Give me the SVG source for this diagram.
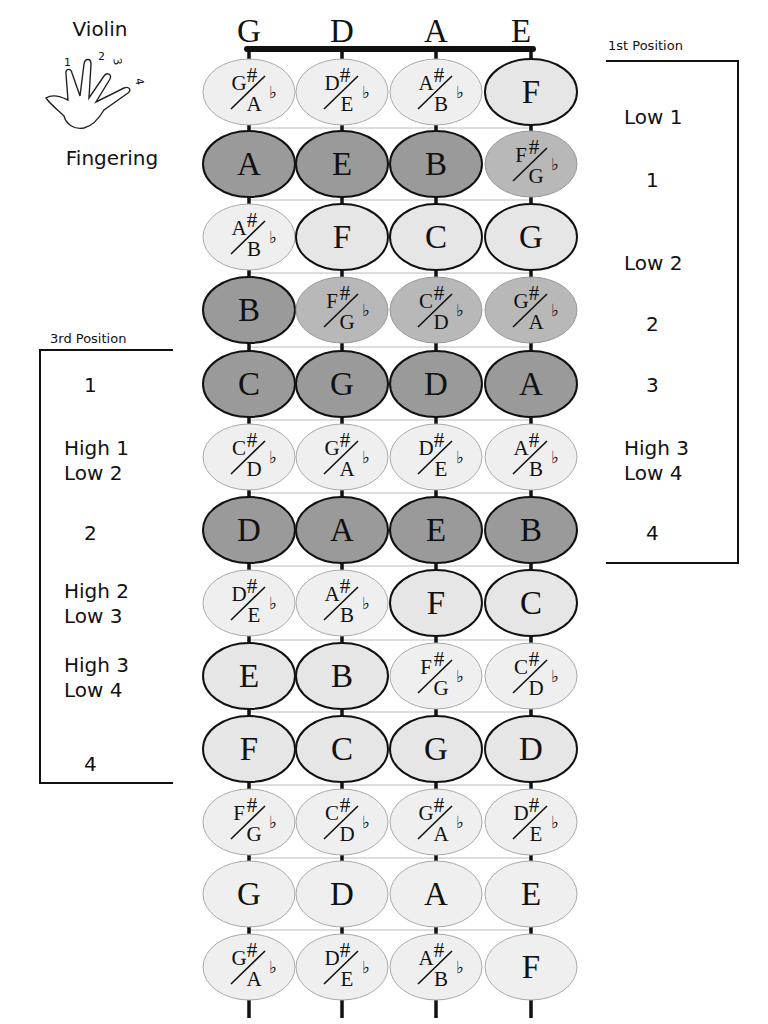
<svg xmlns="http://www.w3.org/2000/svg" width="768" height="1024" viewBox="0 0 768 1024">
<style>
.s{fill:#efefef;stroke:#aaa;stroke-width:1}
.l{fill:#e6e6e6;stroke:#111;stroke-width:2}
.d{fill:#9a9a9a;stroke:#111;stroke-width:2}
.m{fill:#b8b8b8;stroke:#999;stroke-width:1}
.n{font-family:"Liberation Serif",serif;font-size:33px;text-anchor:middle;fill:#111}
.t{font-family:"Liberation Serif",serif;font-size:21px;text-anchor:middle;fill:#111}
.fl{font-family:"DejaVu Sans",sans-serif;font-size:17px;text-anchor:middle;fill:#111}
.h{font-family:"DejaVu Sans",sans-serif;font-size:13px;fill:#111}
.sl{stroke:#111;stroke-width:1.6}
.lab{font-family:"DejaVu Sans",sans-serif;font-size:20px;fill:#111}
.sm{font-family:"DejaVu Sans",sans-serif;font-size:11px;fill:#111}
.br{fill:none;stroke:#111;stroke-width:2}
</style>
<defs>
<ellipse id="e" rx="46" ry="33"/>
</defs>
<rect width="768" height="1024" fill="#fff"/>
<g id="title">
<text x="100" y="36" class="lab" font-size="22" text-anchor="middle">Violin</text>
<text x="112" y="165" class="lab" font-size="22" text-anchor="middle">Fingering</text>
<path d="M46,98 C52,94 60,96 68,100 L66,74 C65,68 71,68 72,73 L80,96 L84,64 C85,58 91,58 91,64 L89,98 L104,76 C107,72 112,74 110,79 L96,102 L124,88 C129,86 132,90 128,93 L104,110 C98,120 92,126 84,128 C74,130 66,124 64,116 C58,110 50,104 46,98 Z" fill="none" stroke="#222" stroke-width="1.4"/>
<text x="64" y="66" class="sm">1</text>
<text x="98" y="60" class="sm">2</text>
<text x="114" y="66" class="sm" transform="rotate(80 118 62)">3</text>
<text x="136" y="86" class="sm" transform="rotate(80 140 82)">4</text>
</g>
<g id="connectors">
<g stroke="#bbb" stroke-width="1">
<line x1="249" y1="128" x2="531" y2="128"/><line x1="249" y1="200" x2="531" y2="200"/><line x1="249" y1="273" x2="531" y2="273"/><line x1="249" y1="347" x2="531" y2="347"/><line x1="249" y1="420" x2="531" y2="420"/><line x1="249" y1="493" x2="531" y2="493"/><line x1="249" y1="566" x2="531" y2="566"/><line x1="249" y1="640" x2="531" y2="640"/><line x1="249" y1="712" x2="531" y2="712"/><line x1="249" y1="785" x2="531" y2="785"/><line x1="249" y1="858" x2="531" y2="858"/><line x1="249" y1="930" x2="531" y2="930"/>
</g>
<g stroke="#111" stroke-width="3.5">
<line x1="249" y1="48" x2="249" y2="1018"/><line x1="342" y1="48" x2="342" y2="1018"/><line x1="436" y1="48" x2="436" y2="1018"/><line x1="531" y1="48" x2="531" y2="1018"/>
</g>
<line x1="247" y1="49" x2="533" y2="49" stroke="#111" stroke-width="6" stroke-linecap="round"/>
</g>
<g id="strings">
<text x="249" y="42" class="n" font-size="34">G</text><text x="342" y="42" class="n" font-size="34">D</text><text x="436" y="42" class="n" font-size="34">A</text><text x="521" y="42" class="n" font-size="34">E</text>
</g>
<g id="pos1">
<text x="608" y="50" class="h">1st Position</text>
<polyline class="br" points="606,61 738,61 738,563 606,563"/>
<text x="624" y="124" class="lab">Low 1</text>
<text x="646" y="187" class="lab">1</text>
<text x="624" y="270" class="lab">Low 2</text>
<text x="646" y="331" class="lab">2</text>
<text x="646" y="392" class="lab">3</text>
<text x="624" y="455" class="lab">High 3</text>
<text x="624" y="480" class="lab">Low 4</text>
<text x="646" y="540" class="lab">4</text>
</g>
<g id="pos3">
<text x="50" y="343" class="h">3rd Position</text>
<polyline class="br" points="173,350 40,350 40,783 173,783"/>
<text x="84" y="392" class="lab">1</text>
<text x="64" y="455" class="lab">High 1</text>
<text x="64" y="480" class="lab">Low 2</text>
<text x="84" y="540" class="lab">2</text>
<text x="64" y="598" class="lab">High 2</text>
<text x="64" y="623" class="lab">Low 3</text>
<text x="64" y="672" class="lab">High 3</text>
<text x="64" y="697" class="lab">Low 4</text>
<text x="84" y="771" class="lab">4</text>
</g>
<g id="notes">
<g id="r1c1" transform="translate(249,92)"><use href="#e" class="s"/><text x="-10" y="-2" class="t">G</text><text x="3" y="-10" class="t" font-size="14">#</text><line class="sl" x1="-18" y1="17" x2="16" y2="-16"/><text x="5" y="19" class="t">A</text><text x="24" y="6" class="fl">♭</text></g>
<g id="r1c2" transform="translate(342,92)"><use href="#e" class="s"/><text x="-10" y="-2" class="t">D</text><text x="3" y="-10" class="t" font-size="14">#</text><line class="sl" x1="-18" y1="17" x2="16" y2="-16"/><text x="5" y="19" class="t">E</text><text x="24" y="6" class="fl">♭</text></g>
<g id="r1c3" transform="translate(436,92)"><use href="#e" class="s"/><text x="-10" y="-2" class="t">A</text><text x="3" y="-10" class="t" font-size="14">#</text><line class="sl" x1="-18" y1="17" x2="16" y2="-16"/><text x="5" y="19" class="t">B</text><text x="24" y="6" class="fl">♭</text></g>
<g id="r1c4" transform="translate(531,92)"><use href="#e" class="l"/><text y="11" class="n">F</text></g>
<g id="r2c1" transform="translate(249,164)"><use href="#e" class="d"/><text y="11" class="n">A</text></g>
<g id="r2c2" transform="translate(342,164)"><use href="#e" class="d"/><text y="11" class="n">E</text></g>
<g id="r2c3" transform="translate(436,164)"><use href="#e" class="d"/><text y="11" class="n">B</text></g>
<g id="r2c4" transform="translate(531,164)"><use href="#e" class="m"/><text x="-10" y="-2" class="t">F</text><text x="3" y="-10" class="t" font-size="14">#</text><line class="sl" x1="-18" y1="17" x2="16" y2="-16"/><text x="5" y="19" class="t">G</text><text x="24" y="6" class="fl">♭</text></g>
<g id="r3c1" transform="translate(249,237)"><use href="#e" class="s"/><text x="-10" y="-2" class="t">A</text><text x="3" y="-10" class="t" font-size="14">#</text><line class="sl" x1="-18" y1="17" x2="16" y2="-16"/><text x="5" y="19" class="t">B</text><text x="24" y="6" class="fl">♭</text></g>
<g id="r3c2" transform="translate(342,237)"><use href="#e" class="l"/><text y="11" class="n">F</text></g>
<g id="r3c3" transform="translate(436,237)"><use href="#e" class="l"/><text y="11" class="n">C</text></g>
<g id="r3c4" transform="translate(531,237)"><use href="#e" class="l"/><text y="11" class="n">G</text></g>
<g id="r4c1" transform="translate(249,310)"><use href="#e" class="d"/><text y="11" class="n">B</text></g>
<g id="r4c2" transform="translate(342,310)"><use href="#e" class="m"/><text x="-10" y="-2" class="t">F</text><text x="3" y="-10" class="t" font-size="14">#</text><line class="sl" x1="-18" y1="17" x2="16" y2="-16"/><text x="5" y="19" class="t">G</text><text x="24" y="6" class="fl">♭</text></g>
<g id="r4c3" transform="translate(436,310)"><use href="#e" class="m"/><text x="-10" y="-2" class="t">C</text><text x="3" y="-10" class="t" font-size="14">#</text><line class="sl" x1="-18" y1="17" x2="16" y2="-16"/><text x="5" y="19" class="t">D</text><text x="24" y="6" class="fl">♭</text></g>
<g id="r4c4" transform="translate(531,310)"><use href="#e" class="m"/><text x="-10" y="-2" class="t">G</text><text x="3" y="-10" class="t" font-size="14">#</text><line class="sl" x1="-18" y1="17" x2="16" y2="-16"/><text x="5" y="19" class="t">A</text><text x="24" y="6" class="fl">♭</text></g>
<g id="r5c1" transform="translate(249,384)"><use href="#e" class="d"/><text y="11" class="n">C</text></g>
<g id="r5c2" transform="translate(342,384)"><use href="#e" class="d"/><text y="11" class="n">G</text></g>
<g id="r5c3" transform="translate(436,384)"><use href="#e" class="d"/><text y="11" class="n">D</text></g>
<g id="r5c4" transform="translate(531,384)"><use href="#e" class="d"/><text y="11" class="n">A</text></g>
<g id="r6c1" transform="translate(249,457)"><use href="#e" class="s"/><text x="-10" y="-2" class="t">C</text><text x="3" y="-10" class="t" font-size="14">#</text><line class="sl" x1="-18" y1="17" x2="16" y2="-16"/><text x="5" y="19" class="t">D</text><text x="24" y="6" class="fl">♭</text></g>
<g id="r6c2" transform="translate(342,457)"><use href="#e" class="s"/><text x="-10" y="-2" class="t">G</text><text x="3" y="-10" class="t" font-size="14">#</text><line class="sl" x1="-18" y1="17" x2="16" y2="-16"/><text x="5" y="19" class="t">A</text><text x="24" y="6" class="fl">♭</text></g>
<g id="r6c3" transform="translate(436,457)"><use href="#e" class="s"/><text x="-10" y="-2" class="t">D</text><text x="3" y="-10" class="t" font-size="14">#</text><line class="sl" x1="-18" y1="17" x2="16" y2="-16"/><text x="5" y="19" class="t">E</text><text x="24" y="6" class="fl">♭</text></g>
<g id="r6c4" transform="translate(531,457)"><use href="#e" class="s"/><text x="-10" y="-2" class="t">A</text><text x="3" y="-10" class="t" font-size="14">#</text><line class="sl" x1="-18" y1="17" x2="16" y2="-16"/><text x="5" y="19" class="t">B</text><text x="24" y="6" class="fl">♭</text></g>
<g id="r7c1" transform="translate(249,530)"><use href="#e" class="d"/><text y="11" class="n">D</text></g>
<g id="r7c2" transform="translate(342,530)"><use href="#e" class="d"/><text y="11" class="n">A</text></g>
<g id="r7c3" transform="translate(436,530)"><use href="#e" class="d"/><text y="11" class="n">E</text></g>
<g id="r7c4" transform="translate(531,530)"><use href="#e" class="d"/><text y="11" class="n">B</text></g>
<g id="r8c1" transform="translate(249,603)"><use href="#e" class="s"/><text x="-10" y="-2" class="t">D</text><text x="3" y="-10" class="t" font-size="14">#</text><line class="sl" x1="-18" y1="17" x2="16" y2="-16"/><text x="5" y="19" class="t">E</text><text x="24" y="6" class="fl">♭</text></g>
<g id="r8c2" transform="translate(342,603)"><use href="#e" class="s"/><text x="-10" y="-2" class="t">A</text><text x="3" y="-10" class="t" font-size="14">#</text><line class="sl" x1="-18" y1="17" x2="16" y2="-16"/><text x="5" y="19" class="t">B</text><text x="24" y="6" class="fl">♭</text></g>
<g id="r8c3" transform="translate(436,603)"><use href="#e" class="l"/><text y="11" class="n">F</text></g>
<g id="r8c4" transform="translate(531,603)"><use href="#e" class="l"/><text y="11" class="n">C</text></g>
<g id="r9c1" transform="translate(249,676)"><use href="#e" class="l"/><text y="11" class="n">E</text></g>
<g id="r9c2" transform="translate(342,676)"><use href="#e" class="l"/><text y="11" class="n">B</text></g>
<g id="r9c3" transform="translate(436,676)"><use href="#e" class="s"/><text x="-10" y="-2" class="t">F</text><text x="3" y="-10" class="t" font-size="14">#</text><line class="sl" x1="-18" y1="17" x2="16" y2="-16"/><text x="5" y="19" class="t">G</text><text x="24" y="6" class="fl">♭</text></g>
<g id="r9c4" transform="translate(531,676)"><use href="#e" class="s"/><text x="-10" y="-2" class="t">C</text><text x="3" y="-10" class="t" font-size="14">#</text><line class="sl" x1="-18" y1="17" x2="16" y2="-16"/><text x="5" y="19" class="t">D</text><text x="24" y="6" class="fl">♭</text></g>
<g id="r10c1" transform="translate(249,749)"><use href="#e" class="l"/><text y="11" class="n">F</text></g>
<g id="r10c2" transform="translate(342,749)"><use href="#e" class="l"/><text y="11" class="n">C</text></g>
<g id="r10c3" transform="translate(436,749)"><use href="#e" class="l"/><text y="11" class="n">G</text></g>
<g id="r10c4" transform="translate(531,749)"><use href="#e" class="l"/><text y="11" class="n">D</text></g>
<g id="r11c1" transform="translate(249,822)"><use href="#e" class="s"/><text x="-10" y="-2" class="t">F</text><text x="3" y="-10" class="t" font-size="14">#</text><line class="sl" x1="-18" y1="17" x2="16" y2="-16"/><text x="5" y="19" class="t">G</text><text x="24" y="6" class="fl">♭</text></g>
<g id="r11c2" transform="translate(342,822)"><use href="#e" class="s"/><text x="-10" y="-2" class="t">C</text><text x="3" y="-10" class="t" font-size="14">#</text><line class="sl" x1="-18" y1="17" x2="16" y2="-16"/><text x="5" y="19" class="t">D</text><text x="24" y="6" class="fl">♭</text></g>
<g id="r11c3" transform="translate(436,822)"><use href="#e" class="s"/><text x="-10" y="-2" class="t">G</text><text x="3" y="-10" class="t" font-size="14">#</text><line class="sl" x1="-18" y1="17" x2="16" y2="-16"/><text x="5" y="19" class="t">A</text><text x="24" y="6" class="fl">♭</text></g>
<g id="r11c4" transform="translate(531,822)"><use href="#e" class="s"/><text x="-10" y="-2" class="t">D</text><text x="3" y="-10" class="t" font-size="14">#</text><line class="sl" x1="-18" y1="17" x2="16" y2="-16"/><text x="5" y="19" class="t">E</text><text x="24" y="6" class="fl">♭</text></g>
<g id="r12c1" transform="translate(249,894)"><use href="#e" class="s"/><text y="11" class="n">G</text></g>
<g id="r12c2" transform="translate(342,894)"><use href="#e" class="s"/><text y="11" class="n">D</text></g>
<g id="r12c3" transform="translate(436,894)"><use href="#e" class="s"/><text y="11" class="n">A</text></g>
<g id="r12c4" transform="translate(531,894)"><use href="#e" class="s"/><text y="11" class="n">E</text></g>
<g id="r13c1" transform="translate(249,967)"><use href="#e" class="s"/><text x="-10" y="-2" class="t">G</text><text x="3" y="-10" class="t" font-size="14">#</text><line class="sl" x1="-18" y1="17" x2="16" y2="-16"/><text x="5" y="19" class="t">A</text><text x="24" y="6" class="fl">♭</text></g>
<g id="r13c2" transform="translate(342,967)"><use href="#e" class="s"/><text x="-10" y="-2" class="t">D</text><text x="3" y="-10" class="t" font-size="14">#</text><line class="sl" x1="-18" y1="17" x2="16" y2="-16"/><text x="5" y="19" class="t">E</text><text x="24" y="6" class="fl">♭</text></g>
<g id="r13c3" transform="translate(436,967)"><use href="#e" class="s"/><text x="-10" y="-2" class="t">A</text><text x="3" y="-10" class="t" font-size="14">#</text><line class="sl" x1="-18" y1="17" x2="16" y2="-16"/><text x="5" y="19" class="t">B</text><text x="24" y="6" class="fl">♭</text></g>
<g id="r13c4" transform="translate(531,967)"><use href="#e" class="s"/><text y="11" class="n">F</text></g>
</g>
</svg>
